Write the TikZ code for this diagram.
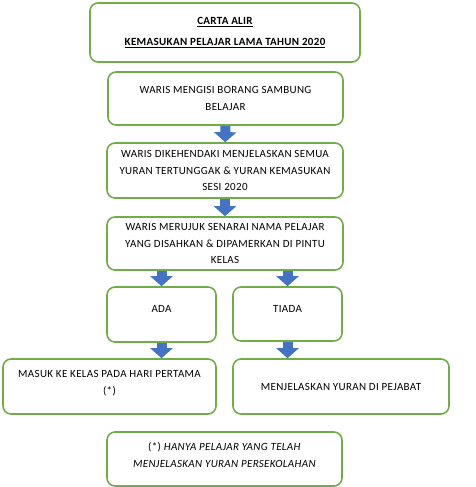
\documentclass[tikz,border=0pt]{standalone}
\usepackage{fontspec}
\setmainfont{Carlito}[LetterSpace=3]
\usetikzlibrary{arrows.meta}

\definecolor{boxGreen}{HTML}{70AD47}
\definecolor{arrowBlue}{HTML}{4472C4}

\begin{document}
\begin{tikzpicture}[x=1pt,y=-1pt]
			\useasboundingbox (0,0) rectangle (476,487);
			\begin{scope}
				[
					styleBox/.style={
						draw=boxGreen, line width=1.6pt, rounded corners=8pt,
						align=center, inner sep=2pt,
						font=\fontsize{11}{16.5}\selectfont,
						minimum width=#1
						},
					styleBox/.default=235pt,
				]
				\node(title)[styleBox=270pt, minimum height=59pt, font=\fontsize{11}{16.5}\selectfont\bfseries] at (225,32.5)
					{\underline{CARTA ALIR}\\[4pt] \underline{KEMASUKAN PELAJAR LAMA TAHUN 2020}};
				\node(isi)[styleBox, minimum height=53pt] at (225.5,98.5)
					{WARIS MENGISI BORANG SAMBUNG\\ BELAJAR};
				\node(jelas)[styleBox=236pt, minimum height=55pt] at (225,170.5)
					{WARIS DIKEHENDAKI MENJELASKAN SEMUA\\ YURAN TERTUNGGAK \& YURAN KEMASUKAN\\ SESI 2020};
				\node(rujuk)[styleBox=236pt, minimum height=53pt] at (225,243.5)
					{WARIS MERUJUK SENARAI NAMA PELAJAR\\ YANG DISAHKAN \& DIPAMERKAN DI PINTU\\ KELAS};
	
				\node(ada)[styleBox=109pt, minimum height=55pt] at (161.5,314.5) {ADA\\[-6pt]};
				\node(tiada)[styleBox=109pt, minimum height=54pt] at (287.5,314) {TIADA\\[-6pt]};
				\node(masuk)[styleBox=213pt, minimum height=55pt] at (109.5,386.5)
					{MASUK KE KELAS PADA HARI PERTAMA\\ (*)\\[-8pt]};
				\node(bayar)[styleBox=216pt, minimum height=55pt] at (341,386.5)
					{MENJELASKAN YURAN DI PEJABAT};
				\node(nota)[styleBox, minimum height=54pt] at (224.5,459)
					{(*) \textit{HANYA PELAJAR YANG TELAH}\\ \textit{MENJELASKAN YURAN PERSEKOLAHAN}\\[-8pt]};
			\end{scope}
			
			\begin{scope}
				[ styleArrow/.style = {arrowBlue, line width=10pt,
						-{Triangle[width=22pt,length=10pt]}}]
				\path 
				(isi) edge[styleArrow]				(jelas)
				(jelas) edge[styleArrow]			(rujuk)
				(rujuk.south -| ada) edge[styleArrow]	(ada)
				(rujuk.south -| tiada) edge[styleArrow]	(tiada)
				(ada) edge[styleArrow]				(ada |- masuk.north)
				(tiada) edge[styleArrow]			(tiada |- bayar.north);
			\end{scope}
		\end{tikzpicture}
\end{document}
